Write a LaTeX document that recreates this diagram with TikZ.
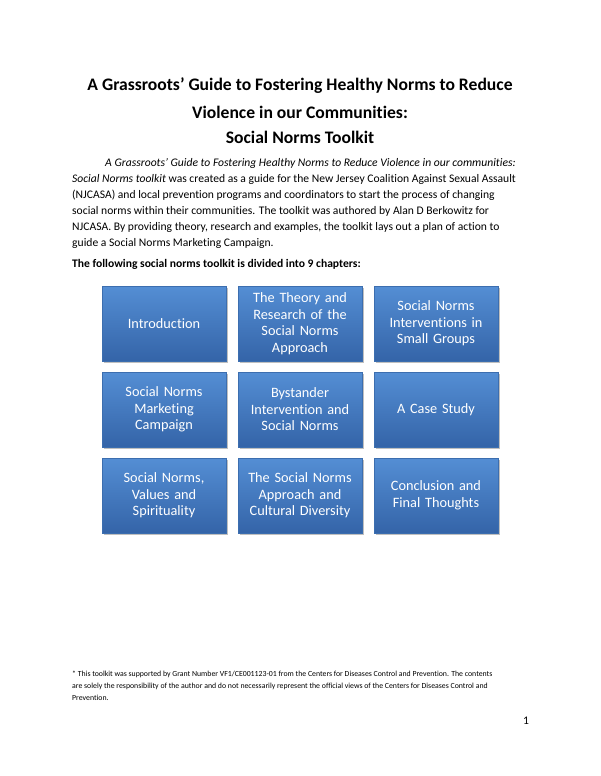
\documentclass[tikz,border=0pt]{standalone}
\usepackage{fontspec}
\setmainfont{Carlito}[Ligatures={NoCommon}]
\begin{document}
\begin{tikzpicture}[x=1pt,y=-1pt,
  ttl/.style={font=\fontsize{17.6}{20}\selectfont\bfseries,anchor=center},
  ln/.style={font=\fontsize{11.6}{14}\selectfont,anchor=base west,inner sep=0pt},
  fn/.style={font=\fontsize{7.8}{9}\selectfont,anchor=base west,inner sep=0pt},
  chap/.style={minimum width=124pt,minimum height=75pt,inner sep=2pt,align=center,text width=120pt,
    text=white,font=\fontsize{14.3}{16.5}\selectfont,
    top color={rgb,255:red,84;green,142;blue,212},bottom color={rgb,255:red,52;green,100;blue,168},
    draw={rgb,255:red,60;green,110;blue,175},line width=0.4pt,
    preaction={fill=black!25,transform canvas={xshift=1.5pt,yshift=-1.5pt}}}]
\useasboundingbox (0,0) rectangle (600,776);
\fill[white] (0,0) rectangle (600,776);
\node[ttl] (t1) at (300,86) {A Grassroots’ Guide to Fostering Healthy Norms to Reduce};
\node[ttl] (t2) at (300,112) {Violence in our Communities:};
\node[ttl] (t3) at (300,137) {Social Norms Toolkit};
\node[ln] (p1) at (105,166) {\itshape A Grassroots’ Guide to Fostering Healthy Norms to Reduce Violence in our communities:};
\node[ln] (p2) at (72,182) {\textit{Social Norms toolkit} was created as a guide for the New Jersey Coalition Against Sexual Assault};
\node[ln] (p3) at (72,198) {(NJCASA) and local prevention programs and coordinators to start the process of changing};
\node[ln] (p4) at (72,214) {social norms within their communities. The toolkit was authored by Alan D Berkowitz for};
\node[ln] (p5) at (72,230) {NJCASA. By providing theory, research and examples, the toolkit lays out a plan of action to};
\node[ln] (p6) at (72,246) {guide a Social Norms Marketing Campaign.};
\node[ln,font=\fontsize{11.6}{14}\selectfont\bfseries] (h) at (72,267) {The following social norms toolkit is divided into 9 chapters:};
\node[chap] (c1) at (164,323.5) {Introduction};
\node[chap] (c2) at (300,323.5) {The Theory and\\Research of the\\Social Norms\\Approach};
\node[chap] (c3) at (436,323.5) {Social Norms\\Interventions in\\Small Groups};
\node[chap] (c4) at (164,409.5) {Social Norms\\Marketing\\Campaign};
\node[chap] (c5) at (300,409.5) {Bystander\\Intervention and\\Social Norms};
\node[chap] (c6) at (436,409.5) {A Case Study};
\node[chap] (c7) at (164,495.5) {Social Norms,\\Values and\\Spirituality};
\node[chap] (c8) at (300,495.5) {The Social Norms\\Approach and\\Cultural Diversity};
\node[chap] (c9) at (436,495.5) {Conclusion and\\Final Thoughts};
\node[fn] (f1) at (72,676) {* This toolkit was supported by Grant Number VF1/CE001123-01 from the Centers for Diseases Control and Prevention. The contents};
\node[fn] (f2) at (72,688) {are solely the responsibility of the author and do not necessarily represent the official views of the Centers for Diseases Control and};
\node[fn] (f3) at (72,700) {Prevention.};
\node[ln] (pg) at (523,724) {1};
\end{tikzpicture}
\end{document}
